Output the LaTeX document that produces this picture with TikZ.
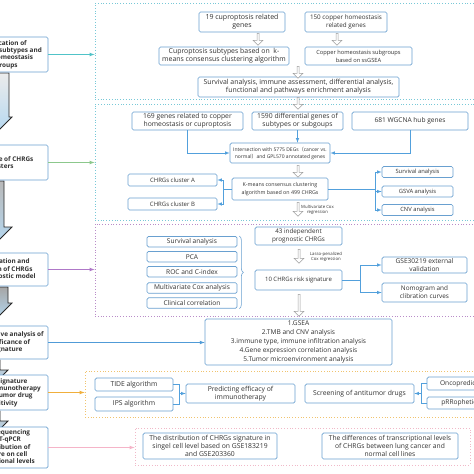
\documentclass[tikz,border=0pt]{standalone}
\usepackage{fontspec}
\setmainfont{Open Sans}
\newfontfamily\cjk{Noto Sans CJK SC}
\usetikzlibrary{calc}
\usetikzlibrary{shapes,arrows}
\usetikzlibrary{decorations.pathreplacing}

\definecolor{boxblue}{RGB}{105,160,208}
\definecolor{lineblue}{RGB}{82,160,220}
\definecolor{txtgray}{RGB}{50,50,50}
\definecolor{frcyan}{RGB}{120,200,215}
\definecolor{frpurple}{RGB}{185,140,200}
\definecolor{frorange}{RGB}{240,195,110}
\definecolor{frpink}{RGB}{240,185,200}
\definecolor{lkteal}{RGB}{80,195,200}
\definecolor{lkgreen}{RGB}{140,200,140}
\definecolor{lkpurple}{RGB}{175,120,200}
\definecolor{lkblue}{RGB}{80,155,215}
\definecolor{lkorange}{RGB}{240,175,60}
\definecolor{lkpink}{RGB}{245,180,200}
\definecolor{arrblue}{RGB}{180,215,240}

\begin{document}
\begin{tikzpicture}[x=1pt,y=-1pt]

 \tikzset{
    box/.style={
      draw=boxblue,
      line width=0.7pt,
      rounded corners=1.5pt,
      fill=white,
      align=center,
      inner sep=0pt,
      text=txtgray,
      font=\fontsize{6.6}{8}\selectfont
    },
    fs/.style={
      font=\fontsize{#1}{8}\selectfont
    },
    sidebox/.style={
      box,
      minimum width=94pt,
      font=\fontsize{6.4}{7.4}\selectfont\bfseries
    },
    frm/.style={
      draw=#1,
      dotted,
      line width=0.8pt,
      inner sep=0pt
    },
    link/.style={
      draw=#1,
      line width=0.7pt,
      -latex
    },
    conn/.style={
      draw=lineblue,
      line width=0.6pt,
      -latex
    },
    seg/.style={
      draw=lineblue,
      line width=0.6pt
    },
    hollow/.style={
      single arrow,
      draw=gray!75,
      fill=white,
      line width=0.5pt,
      inner sep=0pt,
      inner ysep=2.4pt,
      minimum width=10pt,
      single arrow head extend=1pt,
      shape border rotate=270,
      anchor=tail
    },
    bigarrow/.style={
      draw=gray!30!black,
      line width=0.8pt,
      line join=miter,
      top color=gray!#1,
      bottom color=arrblue
    },
    note/.style={
      align=center,
      inner sep=0pt,
      text=txtgray,
      font=\fontsize{4.3}{5.2}\selectfont
    },
    brc/.style={
      draw=boxblue,
      line width=0.6pt,
      decorate,
      decoration={brace,amplitude=4pt}
    }
  }

\useasboundingbox (0,0) rectangle (474,474);
\clip (0,0) rectangle (474,474);

% frames
\node[frm=frcyan, minimum width=385pt, minimum height=96pt] (fr1) at (287.5,51) {};
\node[frm=frcyan, minimum width=385pt, minimum height=116pt] (fr2) at (287.5,162) {};
\node[frm=frpurple, minimum width=385pt, minimum height=92pt] (fr3) at (287.5,270) {};
\node[frm=frorange, minimum width=395pt, minimum height=46pt] (fr5) at (282.5,394) {};
\node[frm=frpink, minimum width=335pt, minimum height=37pt] (fr6) at (302.5,446.5) {};

% left column
\draw[bigarrow=15] (-17,73) -- (9,73) -- (9,117) -- (12,117) -- (-4,133) -- (-20,117) -- (-17,117) -- cycle;
\draw[bigarrow=55] (-12,181) -- (4,181) -- (4,227) -- (12,227) -- (-4,243) -- (-20,227) -- (-12,227) -- cycle;
\draw[bigarrow=70] (-16,287) -- (8,287) -- (8,303) -- (12,303) -- (-4,319) -- (-20,303) -- (-16,303) -- cycle;
\draw[bigarrow=50] (-8,360) -- (0,360) -- (0,370) -- (8,370) -- (-4,382) -- (-16,370) -- (-8,370) -- cycle;
\draw[bigarrow=50] (-8,411) -- (0,411) -- (0,421) -- (8,421) -- (-4,433) -- (-16,421) -- (-8,421) -- cycle;

\node[sidebox, minimum height=35pt] (L1) at (1,54.5) {Identification of\\cuproptosis subtypes and\\copper homeostasis\\subgroups};
\node[sidebox, minimum height=35pt] (L2) at (1,162.5) {Landscape of CHRGs\\clusters};
\node[sidebox, minimum height=33pt] (L3) at (1,269.5) {Identification and\\validation of CHRGs\\risk prognostic model};
\node[sidebox, minimum height=33pt] (L4) at (1,342.5) {Comprehensive analysis of\\the significance of\\the signature};
\node[sidebox, minimum height=35pt] (L5) at (1,392.5) {CHRGs signature\\predicts immunotherapy\\and antitumor drug\\sensitivity};
\node[sidebox, minimum height=41pt] (L6) at (1,447.5) {scRNA sequencing\\and RT-qPCR\\the distribution of\\signature on cell\\transcriptional levels};

% first frame
\node[box, fs=7.0, minimum width=86pt, minimum height=20pt] (cg) at (242,22) {19 cuproptosis related\\genes};
\node[box, fs=6.3, minimum width=82pt, minimum height=20pt] (hg) at (346,22) {150 copper homeostasis\\related genes};
\node[box, fs=6.9, minimum width=130pt, minimum height=18pt] (cs) at (224,56) {Cuproptosis subtypes based on\ \ k-\\means consensus clustering algorithm};
\node[box, fs=5.7, minimum width=107pt, minimum height=18pt] (hs) at (358.5,56) {Copper homeostasis subgroups\\based on ssGSEA};
\node[box, fs=6.9, minimum width=201pt, minimum height=20pt] (sa) at (298.5,87) {Survival analysis, immune assessment, differential analysis,\\functional and pathways enrichment analysis};

\node[hollow, minimum height=12pt] (ar1) at (258,33) {};
\node[hollow, minimum height=12pt] (ar2) at (337,33) {};
\node[hollow, minimum height=12pt] (ar3) at (298,66) {};
\node[hollow, minimum height=12pt] (ar4) at (298,97) {};

% second frame
\node[box, fs=6.8, minimum width=111pt, minimum height=18pt] (g169) at (187.5,121) {169 genes related to copper\\homeostasis or cuproptosis};
\node[box, fs=6.8, minimum width=91pt, minimum height=18pt] (g1590) at (297.5,121) {1590 differential genes of\\subtypes or subgoups};
\node[box, fs=6.6, minimum width=116pt, minimum height=18pt] (g681) at (410,121) {681 WGCNA hub genes};
\node[box, font=\fontsize{5.0}{7}\selectfont, minimum width=100pt, minimum height=20pt] (inter) at (280,153) {Intersection with 5775 DEGs{\cjk （}cancer vs.\\normal{\cjk ）}and GPL570 annotated genes};
\node[box, fs=5.3, minimum width=96pt, minimum height=22pt] (km) at (280,189) {K-means consensus clustering\\algorithm based on 499 CHRGs};
\node[box, fs=6.0, minimum width=89pt, minimum height=12pt] (cA) at (172.5,180) {CHRGs cluster A};
\node[box, fs=6.0, minimum width=89pt, minimum height=12pt] (cB) at (172.5,204) {CHRGs cluster B};
\node[box, fs=5.8, minimum width=71pt, minimum height=11pt] (sv) at (417.5,172) {Survival analysis};
\node[box, fs=5.8, minimum width=71pt, minimum height=11pt] (gsva) at (417.5,191.5) {GSVA analysis};
\node[box, fs=5.8, minimum width=71pt, minimum height=11pt] (cnv) at (417.5,210) {CNV analysis};

\draw[conn] (g169.south) |- (inter.west);
\draw[conn] (g1590.south) -- (g1590.south |- inter.north);
\draw[conn] (g681.south) |- (inter.east);
\coordinate (kl) at (223,189);
\draw[seg] (km.west) -- (kl);
\draw[conn] (kl) |- (cA.east);
\draw[conn] (kl) |- (cB.east);
\coordinate (kr) at (375,189);
\draw[seg] (km.east) -- (kr);
\draw[conn] (kr) |- (sv.west);
\draw[conn] (kr) |- (gsva.west);
\draw[conn] (kr) |- (cnv.west);

\node[hollow, minimum height=12pt] (ar5) at (298,165) {};
\node[hollow, minimum height=14pt] (ar6) at (298,202) {};
\node[note] (nt1) at (317.5,210) {Multivariate Cox\\regression};

% third frame
\node[box, fs=6.3, minimum width=87pt, minimum height=18pt] (p43) at (298.5,236) {43 independent\\prognostic CHRGs};
\node[box, fs=6.0, minimum width=87pt, minimum height=20pt] (sig) at (298.5,280) {10 CHRGs risk signature};
\node[box, minimum width=90pt, minimum height=10.5pt] (m1) at (192,241.7) {Survival analysis};
\node[box, minimum width=90pt, minimum height=10.5pt] (m2) at (192,256.7) {PCA};
\node[box, minimum width=90pt, minimum height=10.5pt] (m3) at (192,271.7) {ROC and C-index};
\node[box, minimum width=90pt, minimum height=10.5pt] (m4) at (192,288) {Multivariate Cox analysis};
\node[box, minimum width=90pt, minimum height=10.5pt] (m5) at (192,303) {Clinical correlation};
\draw[brc] ([xshift=2pt]m1.north east) -- ([xshift=2pt]m5.south east);
\node[box, minimum width=85pt, minimum height=16pt] (gse) at (424.5,265) {GSE30219 external\\validation};
\node[box, fs=6.4, minimum width=85pt, minimum height=19pt] (nomo) at (424.5,292.5) {Nomogram and\\clibration curves};

\coordinate (sr) at (360,280);
\draw[seg] (sig.east) -- (sr);
\draw[conn] (sr) |- (gse.west);
\draw[conn] (sr) |- (nomo.west);

\node[hollow, minimum height=14pt] (ar7) at (299,249) {};
\node[note] (nt2) at (326,256.5) {Lasso-penalized\\Cox regression};
\node[hollow, minimum height=22pt] (ar8) at (299,294) {};

% signature analysis
\node[box, minimum width=187pt, minimum height=46pt, font=\fontsize{6.6}{8.9}\selectfont] (gsea) at (298.5,342) {1.GSEA\\2.TMB and CNV analysis\\3.immune type, immune infiltration analysis\\4.Gene expression correlation analysis\\5.Tumor microenvironment analysis};

% fifth frame
\node[box, fs=6.8, minimum width=78pt, minimum height=13pt] (tide) at (134,384.5) {TIDE algorithm};
\node[box, fs=6.8, minimum width=78pt, minimum height=14pt] (ips) at (134,404) {IPS algorithm};
\node[box, fs=6.8, minimum width=109pt, minimum height=19pt] (pred) at (240.5,393.5) {Predicting efficacy of\\immunotherapy};
\node[box, fs=6.8, minimum width=109pt, minimum height=19pt] (scr) at (359.5,393.5) {Screening of antitumor drugs};
\node[box, minimum width=64pt, minimum height=13pt] (onco) at (459,383.5) {Oncopredict};
\node[box, minimum width=64pt, minimum height=12pt] (prr) at (459,403) {pRRophetic};

\coordinate (tj) at (179,393.5);
\draw[seg] (tide.east) -| (tj);
\draw[seg] (ips.east) -| (tj);
\draw[conn] (tj) -- (pred.west);
\coordinate (oj) at (421,393.5);
\draw[seg] (onco.west) -| (oj);
\draw[seg] (prr.west) -| (oj);
\draw[conn] (oj) -- (scr.east);

% sixth frame
\node[box, fs=6.8, minimum width=134pt, minimum height=26pt] (dist) at (210,446) {The distribution of CHRGs signature in\\singel cell level based on GSE183219\\and GSE203360};
\node[box, fs=6.7, minimum width=136pt, minimum height=26pt] (tdiff) at (390,446) {The differences of transcriptional levels\\of CHRGs between lung cancer and\\normal cell lines};

% links from the left column
\draw[link=lkteal] (L1.east) -- (L1.east -| fr1.west);
\draw[link=lkgreen] (L2.east) -- (L2.east -| fr2.west);
\draw[link=lkpurple] (L3.east) -- (L3.east -| fr3.west);
\draw[link=lkblue] (L4.east) -- (L4.east -| gsea.west);
\draw[link=lkorange] (L5.east) -- (L5.east -| fr5.west);
\draw[link=lkpink] (L6.east) -- (L6.east -| fr6.west);
\end{tikzpicture}
\end{document}
